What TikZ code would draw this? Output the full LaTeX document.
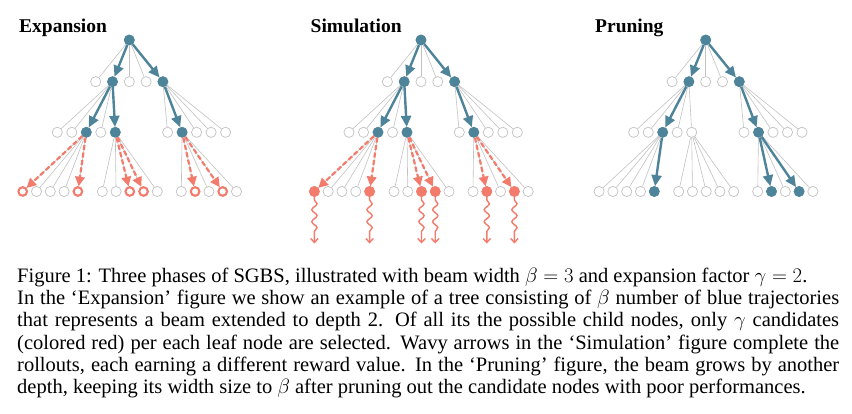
\documentclass[tikz,border=0pt]{standalone}
\usepackage{fontspec}
\setmainfont{Liberation Serif}
\usetikzlibrary{arrows.meta,decorations.pathmorphing}
\definecolor{bl}{HTML}{4E8499}
\definecolor{rd}{HTML}{F27B6C}
\definecolor{gl}{HTML}{C2C2C2}
\tikzset{
  nd/.style={circle,inner sep=0pt,minimum size=10.2pt,draw=gl,line width=0.7pt,fill=white},
  bluenode/.style={fill=bl,draw=bl},
  redring/.style={draw=rd,line width=2.1pt,minimum size=8.6pt},
  reddot/.style={fill=rd,draw=rd},
  thinedge/.style={draw=gl,line width=0.6pt},
  bluearrow/.style={draw=bl,line width=2.4pt,-{Triangle[length=11pt,width=10pt]}},
  redarrow/.style={draw=rd,line width=2.2pt,dash pattern=on 5pt off 2.5pt,-{Triangle[length=9.5pt,width=9.5pt]}},
  wavy/.style={draw=rd,line width=1.4pt,decorate,decoration={snake,amplitude=2.6pt,segment length=12pt,pre length=3pt,post length=11pt},-{Straight Barb[length=4pt,width=7.5pt]}},
  title/.style={anchor=base west,inner sep=0pt,font=\bfseries\fontsize{19.5}{22}\selectfont},
  % special nodes
  st/e-r/.style=bluenode, st/e-1-2/.style=bluenode, st/e-1-5/.style=bluenode,
  st/e-2a-3/.style=bluenode, st/e-2a-5/.style=bluenode, st/e-2b-2/.style=bluenode,
  st/e-3a-1/.style=redring, st/e-3a-5/.style=redring, st/e-3b-3/.style=redring,
  st/e-3b-4/.style=redring, st/e-3c-2/.style=redring, st/e-3c-4/.style=redring,
  st/s-r/.style=bluenode, st/s-1-2/.style=bluenode, st/s-1-5/.style=bluenode,
  st/s-2a-3/.style=bluenode, st/s-2a-5/.style=bluenode, st/s-2b-2/.style=bluenode,
  st/s-3a-1/.style=reddot, st/s-3a-5/.style=reddot, st/s-3b-3/.style=reddot,
  st/s-3b-4/.style=reddot, st/s-3c-2/.style=reddot, st/s-3c-4/.style=reddot,
  st/p-r/.style=bluenode, st/p-1-2/.style=bluenode, st/p-1-5/.style=bluenode,
  st/p-2a-3/.style=bluenode, st/p-2b-2/.style=bluenode,
  st/p-3a-5/.style=bluenode, st/p-3c-2/.style=bluenode, st/p-3c-4/.style=bluenode,
}
% a group of five nodes: #1 name, #2 centre x, #3 y, #4 spacing
\newcommand\grp[4]{%
  \foreach \i in {1,...,5}{%
    \edef\tmp{\noexpand\node[nd,st/#1-\i/.try] (#1-\i) at ({#2+(\i-3)*#4},#3) {};}\tmp}}
\newcommand\fan[2]{\foreach \i in {1,...,5}{\draw[thinedge] (#1) -- (#2-\i);}}
% whole tree: #1 prefix, #2 root x
\newcommand\drawtree[2]{%
  \edef\tmp{\noexpand\node[nd,st/#1-r/.try] (#1-r) at (#2,40) {};}\tmp
  \grp{#1-1}{#2}{81.7}{16.8}
  \grp{#1-2a}{#2-43}{132.3}{14.5}
  \grp{#1-2b}{#2+67.3}{132.3}{14.5}
  \grp{#1-3a}{#2-79}{191.5}{13.8}
  \grp{#1-3b}{#2+0.5}{191.5}{13.75}
  \grp{#1-3c}{#2+79.6}{191.5}{13.8}
  \fan{#1-r}{#1-1}
  \fan{#1-1-2}{#1-2a}
  \fan{#1-1-5}{#1-2b}
  \fan{#1-2a-3}{#1-3a}
  \fan{#1-2a-5}{#1-3b}
  \fan{#1-2b-2}{#1-3c}
}
\begin{document}
\begin{tikzpicture}[x=1pt,y=-1pt]
\fill[white] (0,0) rectangle (852,414);
\useasboundingbox (0,0) rectangle (852,414);

% titles
\node[title] (t1) at (19,33) {Expansion};
\node[title] (t2) at (310.5,33) {Simulation};
\node[title] (t3) at (595,33) {Pruning};

% Expansion
\drawtree{e}{129.3}
\draw[bluearrow] (e-r) -- (e-1-2);
\draw[bluearrow] (e-r) -- (e-1-5);
\draw[bluearrow] (e-1-2) -- (e-2a-3);
\draw[bluearrow] (e-1-2) -- (e-2a-5);
\draw[bluearrow] (e-1-5) -- (e-2b-2);
\draw[redarrow] (e-2a-3) -- (e-3a-1);
\draw[redarrow] (e-2a-3) -- (e-3a-5);
\draw[redarrow] (e-2a-5) -- (e-3b-3);
\draw[redarrow] (e-2a-5) -- (e-3b-4);
\draw[redarrow] (e-2b-2) -- (e-3c-2);
\draw[redarrow] (e-2b-2) -- (e-3c-4);

% Simulation
\drawtree{s}{421}
\draw[bluearrow] (s-r) -- (s-1-2);
\draw[bluearrow] (s-r) -- (s-1-5);
\draw[bluearrow] (s-1-2) -- (s-2a-3);
\draw[bluearrow] (s-1-2) -- (s-2a-5);
\draw[bluearrow] (s-1-5) -- (s-2b-2);
\draw[redarrow] (s-2a-3) -- (s-3a-1);
\draw[redarrow] (s-2a-3) -- (s-3a-5);
\draw[redarrow] (s-2a-5) -- (s-3b-3);
\draw[redarrow] (s-2a-5) -- (s-3b-4);
\draw[redarrow] (s-2b-2) -- (s-3c-2);
\draw[redarrow] (s-2b-2) -- (s-3c-4);
\foreach \n [count=\k] in {s-3a-1,s-3a-5,s-3b-3,s-3b-4,s-3c-2,s-3c-4}{
  \path (\n.center) ++(0,52) coordinate (w\k);
  \draw[wavy] (\n) -- (w\k);
}

% Pruning
\drawtree{p}{705.7}
\draw[bluearrow] (p-r) -- (p-1-2);
\draw[bluearrow] (p-r) -- (p-1-5);
\draw[bluearrow] (p-1-2) -- (p-2a-3);
\draw[bluearrow] (p-1-5) -- (p-2b-2);
\draw[bluearrow] (p-2a-3) -- (p-3a-5);
\draw[bluearrow] (p-2b-2) -- (p-3c-2);
\draw[bluearrow] (p-2b-2) -- (p-3c-4);

% caption
\node[anchor=base west,inner sep=0pt] (cap) at (17,282.3) {\parbox[t]{822pt}{\fontsize{20.5}{22.3}\selectfont
\hyphenpenalty=10000 \exhyphenpenalty=10000
Figure 1: Three phases of SGBS, illustrated with beam width $\beta=3$ and expansion factor $\gamma=2$.\\
In the ‘Expansion’ figure we show an example of a tree consisting of $\beta$ number of blue trajectories\linebreak
that represents a beam extended to depth 2. Of all its the possible child nodes, only $\gamma$ candidates\linebreak
(colored red) per each leaf node are selected. Wavy arrows in the ‘Simulation’ figure complete the\linebreak
rollouts, each earning a different reward value. In the ‘Pruning’ figure, the beam grows by another\linebreak
depth, keeping its width size to $\beta$ after pruning out the candidate nodes with poor performances.}};
\end{tikzpicture}
\end{document}
